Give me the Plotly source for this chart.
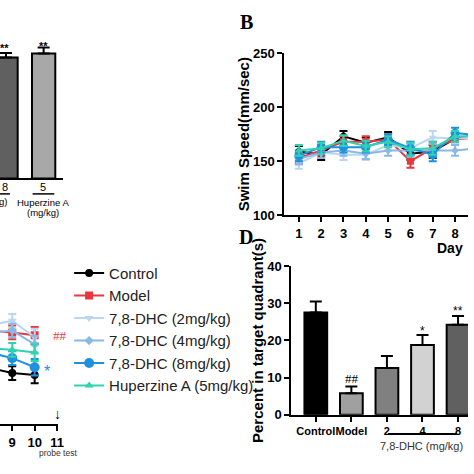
import plotly.graph_objects as go

W = H = 474
def px(x): return x / W
def py(y): return 1 - y / H

# ---------- data ----------
groups = ["Control", "Model", "7,8-DHC (2mg/kg)", "7,8-DHC (4mg/kg)", "7,8-DHC (8mg/kg)", "Huperzine A (5mg/kg)"]
colors = ["#000000", "#e8383d", "#b9d7f0", "#8ab8e6", "#1e90e0", "#2fd3b0"]
symbols = ["circle", "square", "triangle-down", "diamond", "circle", "triangle-up"]
msizes = [8, 8, 8, 7, 10, 8]

# Panel A (partial, cropped)
a_x = [4, 5]
a_vals = [70.6, 72.9]
a_err = [2.5, 3.4]
a_colors = ["#606060", "#a8a8a8"]

# Panel B: swim speed
b_days = [1, 2, 3, 4, 5, 6, 7, 8, 9, 10]
b_vals = {
    "Control": [159, 156, 173, 167, 172, 157, 159, 171, 174, 175],
    "Model": [153, 160, 168, 168, 170, 150, 162, 170, 172, 173],
    "7,8-DHC (2mg/kg)": [148, 158, 156, 156, 165, 162, 172, 171, 172, 170],
    "7,8-DHC (4mg/kg)": [152, 158, 160, 157, 160, 160, 160, 160, 162, 163],
    "7,8-DHC (8mg/kg)": [155, 163, 163, 163, 170, 162, 156, 176, 174, 173],
    "Huperzine A (5mg/kg)": [160, 162, 169, 164, 168, 161, 162, 173, 173, 172],
}
b_err = [5, 5, 5, 5, 5, 6, 6, 5, 5, 5]

# Panel C: escape latency (cropped, days 8-10)
c_days = [8, 9, 10]
c_vals = {
    "Control": [20.5, 18.6, 17.9],
    "Model": [34, 33.3, 32.3],
    "7,8-DHC (2mg/kg)": [36, 37.5, 31.6],
    "7,8-DHC (4mg/kg)": [33, 34, 29],
    "7,8-DHC (8mg/kg)": [26, 24, 20.7],
    "Huperzine A (5mg/kg)": [27.5, 27, 26],
}
c_err = [2.5, 2.5, 3]

# Panel D: probe test
d_labels = ["Control", "Model", "2", "4", "8"]
d_vals = [27.5, 5.8, 12.6, 18.8, 24.2]
d_err = [3.0, 1.8, 3.2, 2.7, 2.4]
d_colors = ["#000000", "#a0a0a0", "#808080", "#d2d2d2", "#606060"]

fig = go.Figure()

fig.add_trace(go.Bar(x=a_x, y=a_vals, marker=dict(color=a_colors, line=dict(color="black", width=2)),
                     width=0.62, error_y=dict(type="data", array=a_err, symmetric=False, arrayminus=[0, 0],
                     color="black", thickness=2, width=6), xaxis="x", yaxis="y", showlegend=False))

for g, c, s, m in zip(groups, colors, symbols, msizes):
    fig.add_trace(go.Scatter(x=b_days, y=b_vals[g], mode="lines+markers", line=dict(color=c, width=2),
                             marker=dict(symbol=s, size=m - 1, color=c),
                             error_y=dict(type="data", array=b_err, color=c, thickness=2, width=4),
                             xaxis="x2", yaxis="y2", showlegend=False, cliponaxis=True))

for g, c, s, m in zip(groups, colors, symbols, msizes):
    fig.add_trace(go.Scatter(x=c_days, y=c_vals[g], mode="lines+markers", name=g, line=dict(color=c, width=2),
                             marker=dict(symbol=s, size=m, color=c),
                             error_y=dict(type="data", array=c_err, color=c, thickness=2, width=4),
                             xaxis="x3", yaxis="y3", cliponaxis=True))

fig.add_trace(go.Bar(x=list(range(len(d_vals))), y=d_vals, width=0.64,
                     marker=dict(color=d_colors, line=dict(color="black", width=2)),
                     error_y=dict(type="data", array=d_err, symmetric=False, arrayminus=[0] * 5,
                                  color="black", thickness=2, width=6),
                     xaxis="x4", yaxis="y4", showlegend=False))

bold = dict(family="Liberation Sans, Arial", size=13, color="black")
def axl(**kw):
    d = dict(showline=True, linecolor="black", linewidth=2, ticks="outside", tickwidth=2,
             ticklen=5, tickcolor="black", showgrid=False, zeroline=False, tickfont=bold)
    d.update(kw)
    return d

fig.update_layout(
    width=W, height=H, margin=dict(l=0, r=0, t=0, b=0), plot_bgcolor="white", paper_bgcolor="white",
    font=dict(family="Liberation Sans, Arial", color="black"),
    xaxis=dict(domain=[0, px(64)], range=[3.84, 5.52], anchor="y", showline=True, linecolor="black", linewidth=2,
               showticklabels=False, ticks="", showgrid=False, zeroline=False),
    yaxis=dict(domain=[py(177), 1], range=[0, 100], anchor="x", visible=False),
    xaxis2=axl(domain=[px(288), 1], range=[0.35, 8.58], anchor="y2", tickvals=b_days,
               ticktext=[f"<b>{d}</b>" for d in b_days]),
    yaxis2=axl(domain=[py(215), py(47.7)], range=[100, 250], anchor="x2", tickvals=[100, 150, 200, 250],
               ticktext=["<b>100</b>", "<b>150</b>", "<b>200</b>", "<b>250</b>"],
               title=dict(text="<b>Swim Speed(mm/sec)</b>", font=dict(size=15), standoff=0)),
    xaxis3=axl(domain=[0, px(59)], range=[8.455, 11.05], anchor="y3", tickvals=[9, 10, 11],
               ticktext=["<b>9</b>", "<b>10</b>", "<b>11</b>"], ticklen=5),
    yaxis3=dict(domain=[py(431), py(260)], range=[0, 60], anchor="x3", visible=False),
    xaxis4=axl(domain=[px(295), 1], range=[-0.69, 4.28], anchor="y4", tickvals=list(range(5)), tickangle=0,
               tickfont=dict(family="Liberation Sans, Arial", size=11, color="black"),
               ticktext=["<b>Control</b>", "<b>Model</b>", "<b>2</b>", "<b>4</b>", "<b>8</b>"]),
    yaxis4=axl(domain=[py(421), py(267.7)], range=[0, 40], anchor="x4", tickvals=[0, 10, 20, 30, 40],
               ticktext=["<b>0</b>", "<b>10</b>", "<b>20</b>", "<b>30</b>", "<b>40</b>"],
               title=dict(text="<b>Percent in target quadrant(s)</b>", font=dict(size=15), standoff=0)),
    legend=dict(x=px(70), y=py(258), xanchor="left", yanchor="top", font=dict(size=15, color="#222"),
                bgcolor="rgba(0,0,0,0)", tracegroupgap=0, itemwidth=30),
)

def ann(x, y, t, size=12, color="black", family="Liberation Sans, Arial", xanchor="center"):
    fig.add_annotation(x=px(x), y=py(y), xref="paper", yref="paper", text=t, showarrow=False,
                       font=dict(size=size, color=color, family=family), xanchor=xanchor, yanchor="middle")

ann(250, 16, "<b>B</b>", 20, family="Liberation Serif, Times New Roman")
ann(240, 238, "<b>D</b>", 20, family="Liberation Serif, Times New Roman", xanchor="left")
ann(5, 42, "<b>**</b>", 11)
ann(44, 40, "<b>**</b>", 11)
ann(5, 186, "8", 11)
ann(44, 186, "5", 11)
ann(44, 202, "Huperzine A", 9.5)
ann(44, 212, "(mg/kg)", 9.5)
ann(3, 201, "g)", 9.5)
fig.add_shape(type="line", xref="paper", yref="paper", x0=0, x1=px(10), y0=py(193), y1=py(193), line=dict(color="black", width=1.5))
fig.add_shape(type="line", xref="paper", yref="paper", x0=px(33), x1=px(55), y0=py(193), y1=py(193), line=dict(color="black", width=1.5))
ann(471, 249, "<b>Day</b>", 14, xanchor="right")
ann(59, 461, "probe test", 8.5, color="#333")
ann(58, 420, "↓", 14)
ann(52, 339, "##", 13, color="#e8383d", family="Liberation Serif, Times New Roman", xanchor="left")
ann(48, 376, "*", 16, color="#1e90e0")
ann(356.7, 384, "##", 13, family="Liberation Serif, Times New Roman")
ann(428, 335, "*", 12)
ann(464, 314, "**", 12)
fig.add_shape(type="line", xref="paper", yref="paper", x0=px(393), x1=px(463), y0=py(441), y1=py(441), line=dict(color="black", width=2))
ann(471, 453, "7,8-DHC (mg/kg)", 11, color="#333", xanchor="right")

fig.write_html("out.html", config={"displayModeBar": False},
               post_script="document.body.style.margin='0';document.body.style.overflow='hidden';")
